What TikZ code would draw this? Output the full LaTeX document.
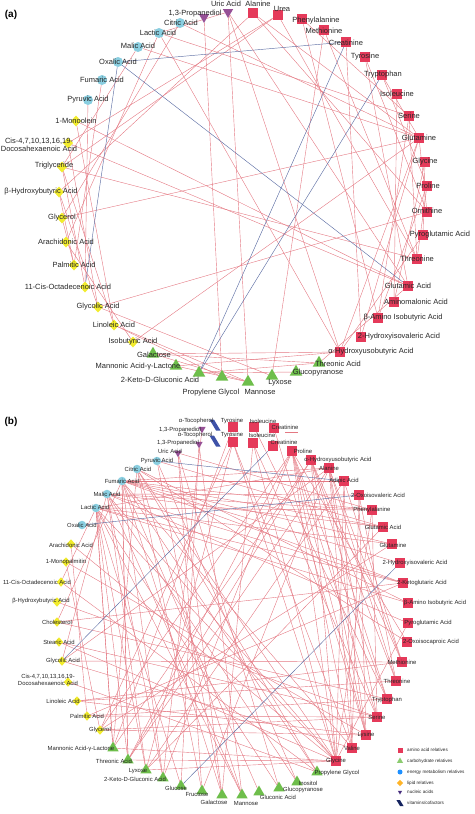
\documentclass[tikz,border=0pt]{standalone}
\usepackage{fontspec}
\setmainfont{Liberation Sans}
\usetikzlibrary{shapes.geometric,backgrounds}
\definecolor{aared}{RGB}{229,58,90}
\definecolor{aagreen}{RGB}{110,190,75}
\definecolor{aacyan}{RGB}{138,206,224}
\definecolor{aayellow}{RGB}{242,236,45}
\definecolor{aapurple}{RGB}{150,80,150}
\definecolor{aanavy}{RGB}{62,82,168}
\definecolor{lgblue}{RGB}{30,144,255}
\definecolor{lgorange}{RGB}{255,180,40}
\definecolor{lgpurple}{RGB}{70,45,125}
\definecolor{lgnavy}{RGB}{20,35,95}
\definecolor{redline}{RGB}{228,120,130}
\definecolor{blueline}{RGB}{95,112,165}
\tikzset{
 mk/.style={inner sep=0pt, outer sep=0pt, draw=none},
 sqa/.style={mk, rectangle, fill=aared, minimum size=10.5pt},
 tria/.style={mk, regular polygon, regular polygon sides=3, fill=aagreen, minimum size=14.5pt},
 cira/.style={mk, circle, fill=aacyan, minimum size=10pt},
 diaa/.style={mk, diamond, fill=aayellow, minimum width=10pt, minimum height=11pt},
 nuca/.style={mk, regular polygon, regular polygon sides=3, shape border rotate=180, fill=aapurple, minimum size=12pt},
 sqb/.style={mk, rectangle, fill=aared, minimum size=9.5pt},
 trib/.style={mk, regular polygon, regular polygon sides=3, fill=aagreen, minimum size=13pt},
 cirb/.style={mk, circle, fill=aacyan, minimum size=8.5pt},
 diab/.style={mk, diamond, fill=aayellow, minimum width=8.5pt, minimum height=9.5pt},
 nucb/.style={mk, regular polygon, regular polygon sides=3, shape border rotate=180, fill=aapurple, minimum size=8.5pt},
 vitb/.style={mk, rectangle, fill=aanavy, minimum width=4.5pt, minimum height=11pt, xslant=-0.6},
 lbla/.style={inner sep=0pt, font=\fontsize{7.5}{8.3}\selectfont, text=black!85},
 lblb/.style={inner sep=0pt, font=\fontsize{5.9}{6.7}\selectfont, text=black!85},
 lgt/.style={inner sep=0pt, anchor=west, font=\fontsize{4.6}{5}\selectfont, text=black!85},
 re/.style={draw=redline, line width=0.4pt},
 be/.style={draw=blueline, line width=0.45pt},
}
\newcommand{\nda}[7]{\node[#1] (#2) at (#3,#4) {}; \node[lbla] (#2l) at (#5,#6) {#7};}
\newcommand{\ndb}[7]{\node[#1] (#2) at (#3,#4) {}; \node[lblb] (#2l) at (#5,#6) {#7};}
\begin{document}
\begin{tikzpicture}[x=1pt,y=-1pt]
\useasboundingbox (0,0) rectangle (474,814);
\node[font=\bfseries\fontsize{10}{12}\selectfont] (pa) at (11,15) {(a)};
\node[font=\bfseries\fontsize{10}{12}\selectfont] (pb) at (11,422) {(b)};
% ---------------- panel (a) nodes
\nda{nuca}{aUric}{228}{12}{226}{4}{Uric Acid}
\nda{nuca}{aProp}{204}{17}{195}{14}{1,3-Propanediol}
\nda{cira}{aCit}{180}{23}{181}{23}{Citric Acid}
\nda{cira}{aLac}{159}{33}{158}{33}{Lactic Acid}
\nda{cira}{aMal}{138}{47}{138}{46}{Malic Acid}
\nda{cira}{aOxa}{118}{62}{118}{62}{Oxalic Acid}
\nda{cira}{aFum}{102}{80}{102}{80}{Fumaric Acid}
\nda{cira}{aPyr}{88}{100}{88}{100}{Pyruvic Acid}
\nda{diaa}{aMono}{76}{121}{76}{121}{1-Monoolein}
\node[diaa] (aDHA) at (68,143) {};
\node[lbla, align=center] (aDHAl) at (39,145) {Cis-4,7,10,13,16,19-\\Docosahexaenoic Acid};
\nda{diaa}{aTri}{62}{167}{54}{166}{Triglyceride}
\nda{diaa}{aBHB}{59}{192}{41}{192}{β-Hydroxybutyric Acid}
\nda{diaa}{aGlyc}{62}{218}{62}{218}{Glycerol}
\nda{diaa}{aAra}{66}{242}{66}{242}{Arachidonic Acid}
\nda{diaa}{aPal}{74}{265}{74}{265}{Palmitic Acid}
\nda{diaa}{aCis}{85}{287}{68}{287}{11-Cis-Octadecenoic Acid}
\nda{diaa}{aGlyco}{98}{307}{98}{307}{Glycolic Acid}
\nda{diaa}{aLin}{114}{325}{114}{325}{Linoleic Acid}
\nda{diaa}{aIso}{133}{342}{133}{342}{Isobutyric Acid}
\nda{tria}{aGal}{153}{354}{154}{355}{Galactose}
\nda{tria}{aMan}{176}{366}{138}{367}{Mannonic Acid-γ-Lactone}
\nda{tria}{aKeto}{199}{373}{160}{380}{2-Keto-D-Gluconic Acid}
\nda{tria}{aPG}{222}{377}{211}{393}{Propylene Glycol}
\nda{tria}{aMann}{248}{382}{260}{392}{Mannose}
\nda{tria}{aLyx}{272}{376}{280}{383}{Lyxose}
\nda{tria}{aGlp}{296}{372}{318}{373}{Glucopyranose}
\nda{tria}{aThr}{319}{363}{338}{364}{Threonic Acid}
\nda{sqa}{aHIB}{340}{352}{371}{352}{α-Hydroxyusobutyric Acid}
\nda{sqa}{aHIV}{361}{337}{399}{337}{2-Hydroxyisovaleric Acid}
\nda{sqa}{aBAIB}{378}{318}{403}{318}{β-Amino Isobutyric Acid}
\nda{sqa}{aAmm}{394}{302}{416}{302}{Aminomalonic Acid}
\nda{sqa}{aGlu}{408}{286}{408}{286}{Glutamic Acid}
\nda{sqa}{aThn}{417}{259}{417}{259}{Threonine}
\nda{sqa}{aPyg}{423}{235}{440}{235}{Pyroglutamic Acid}
\nda{sqa}{aOrn}{427}{212}{427}{211}{Ornithine}
\nda{sqa}{aPro}{427}{186}{428}{186}{Proline}
\nda{sqa}{aGly}{425}{162}{425}{162}{Glycine}
\nda{sqa}{aGln}{419}{138}{419}{138}{Glutamine}
\nda{sqa}{aSer}{409}{116}{409}{116}{Serine}
\nda{sqa}{aIle}{397}{94}{397}{94}{Isoleucine}
\nda{sqa}{aTrp}{382}{75}{383}{75}{Tryptophan}
\nda{sqa}{aTyr}{365}{57}{365}{57}{Tyrosine}
\nda{sqa}{aCre}{346}{42}{346}{43}{Creatinine}
\nda{sqa}{aMet}{324}{30}{324}{31}{Methionine}
\nda{sqa}{aPhe}{302}{19}{316}{21}{Phenylalanine}
\nda{sqa}{aUrea}{278}{15}{282}{9}{Urea}
\nda{sqa}{aAla}{253}{13}{258}{4}{Alanine}
% ---------------- panel (b) nodes
\ndb{vitb}{bToc1}{215}{425}{196}{421}{α-Tocopherol}
\ndb{sqb}{bTyr1}{233}{427}{232}{421}{Tyrosine}
\ndb{sqb}{bIle1}{254}{427}{263}{421}{Isoleucine}
\ndb{sqb}{bCre1}{274}{428}{285}{427}{Creatinine}
\ndb{nucb}{bProp1}{202}{429}{180}{430}{1,3-Propanediol}
\ndb{vitb}{bToc2}{215}{441}{195}{435}{α-Tocopherol}
\ndb{sqb}{bTyr2}{233}{442}{232}{435}{Tyrosine}
\ndb{sqb}{bIle2}{253}{443}{262}{435}{Isoleucine}
\ndb{sqb}{bCre2}{273}{446}{284}{442}{Creatinine}
\ndb{nucb}{bProp2}{199}{444}{178}{443}{1,3-Propanediol}
\ndb{nucb}{bUric}{178}{453}{170}{451}{Uric Acid}
\ndb{cirb}{bPyr}{157}{461}{157}{461}{Pyruvic Acid}
\ndb{cirb}{bCit}{137}{469}{138}{469}{Citric Acid}
\ndb{cirb}{bFum}{122}{481}{122}{481}{Fumaric Acid}
\ndb{cirb}{bMal}{107}{494}{107}{494}{Malic Acid}
\ndb{cirb}{bLac}{96}{508}{95}{507}{Lactic Acid}
\ndb{cirb}{bOxa}{82}{525}{82}{525}{Oxalic Acid}
\ndb{diab}{bAra}{71}{544}{71}{545}{Arachidonic Acid}
\ndb{diab}{bMonop}{66}{562}{66}{562}{1-Monopalmitin}
\ndb{diab}{bCis}{61}{582}{37}{582}{11-Cis-Octadecenoic Acid}
\ndb{diab}{bBHB}{57}{602}{41}{601}{β-Hydroxybutyric Acid}
\ndb{diab}{bChol}{57}{622}{57}{622}{Cholesterol}
\ndb{diab}{bSte}{59}{642}{59}{642}{Stearic Acid}
\ndb{diab}{bGlyco}{62}{661}{63}{661}{Glycolic Acid}
\node[diab] (bDHA) at (68,682) {};
\node[lblb, align=center] (bDHAl) at (48,680) {Cis-4,7,10,13,16,19-\\Docosahexaenoic Acid};
\ndb{diab}{bLin}{77}{701}{63}{701}{Linoleic Acid}
\ndb{diab}{bPal}{87}{716}{87}{716}{Palmitic Acid}
\ndb{diab}{bGlyc}{100}{730}{100}{730}{Glycerol}
\ndb{trib}{bMan}{113}{748}{81}{749}{Mannonic Acid-γ-Lactone}
\ndb{trib}{bThr}{128}{760}{114}{761}{Threonic Acid}
\ndb{trib}{bLyx}{146}{770}{138}{771}{Lyxose}
\ndb{trib}{bKeto}{163}{778}{135}{779}{2-Keto-D-Gluconic Acid}
\ndb{trib}{bGlc}{181}{786}{176}{788}{Glucose}
\ndb{trib}{bFru}{202}{791}{197}{794}{Fructose}
\ndb{trib}{bGal}{222}{795}{214}{802}{Galactose}
\ndb{trib}{bMann}{242}{795}{246}{803}{Mannose}
\ndb{trib}{bGlcA}{259}{792}{278}{797}{Gluconic Acid}
\ndb{trib}{bGlp}{279}{788}{303}{790}{Glucopyranose}
\ndb{trib}{bIno}{297}{782}{308}{783}{Inositol}
\ndb{trib}{bPG}{317}{772}{337}{773}{Propylene Glycol}
\ndb{sqb}{bGly}{336}{761}{336}{761}{Glycine}
\ndb{sqb}{bVal}{352}{748}{352}{748}{Valine}
\ndb{sqb}{bLys}{366}{735}{366}{735}{Lysine}
\ndb{sqb}{bSer}{377}{717}{377}{717}{Serine}
\ndb{sqb}{bTrp}{387}{699}{387}{700}{Tryptophan}
\ndb{sqb}{bThn}{396}{681}{397}{681}{Threonine}
\ndb{sqb}{bMet}{402}{662}{402}{662}{Methionine}
\ndb{sqb}{bOic}{407}{642}{431}{642}{2-Oxoisocaproic Acid}
\ndb{sqb}{bPyg}{408}{623}{428}{623}{Pyroglutamic Acid}
\ndb{sqb}{bBAIB}{408}{603}{435}{603}{β-Amino Isobutyric Acid}
\ndb{sqb}{bKG}{403}{583}{422}{583}{2-Ketoglutaric Acid}
\ndb{sqb}{bHIV}{400}{563}{415}{563}{2-Hydroxyisovaleric Acid}
\ndb{sqb}{bGln}{392}{544}{393}{545}{Glutamine}
\ndb{sqb}{bGlu}{383}{527}{383}{527}{Glutamic Acid}
\ndb{sqb}{bPhe}{372}{510}{372}{510}{Phenylalanine}
\ndb{sqb}{bOiv}{359}{495}{378}{495}{2-Oxoisovaleric Acid}
\ndb{sqb}{bAdi}{344}{481}{344}{481}{Adipic Acid}
\ndb{sqb}{bAla}{329}{468}{329}{468}{Alanine}
\ndb{sqb}{bHIB}{311}{460}{338}{460}{α-Hydroxyusobutyric Acid}
\ndb{sqb}{bPro}{292}{451}{303}{451}{Proline}
\draw[redline, line width=0.5pt] (285,432) -- (298,432);
% legend
\node[mk, rectangle, fill=aared, minimum size=5pt] (lg1) at (400,750) {};
\node[lgt] (lg1l) at (407,750) {amino acid relatives};
\node[mk, regular polygon, regular polygon sides=3, fill=aagreen!80, minimum size=7pt] (lg2) at (400,761) {};
\node[lgt] (lg2l) at (407,761) {carbohydrate relatives};
\node[mk, circle, fill=lgblue, minimum size=5pt] (lg3) at (400,772) {};
\node[lgt] (lg3l) at (407,772) {energy metabolism relatives};
\node[mk, star, star points=4, fill=lgorange, minimum size=6.5pt] (lg4) at (400,783) {};
\node[lgt] (lg4l) at (407,783) {lipid relatives};
\node[mk, regular polygon, regular polygon sides=3, shape border rotate=180, fill=lgpurple, minimum size=5pt] (lg5) at (400,792) {};
\node[lgt] (lg5l) at (407,792) {nucleic acids};
\node[mk, rectangle, fill=lgnavy, minimum width=3.5pt, minimum height=6pt, xslant=-0.6] (lg6) at (400,803) {};
\node[lgt] (lg6l) at (407,803) {vitamins/cofactors};
% ---------------- edges
\begin{scope}[on background layer]
\foreach \u/\v in {aUric/aMann, aProp/aPG, aUric/aHIB, aUric/aGlu, aUric/aLac, aAla/aBHB, aUrea/aTri, aAla/aGln, aAla/aOrn, aUrea/aThn, aPhe/aBAIB, aPhe/aSer, aMet/aThn, aMet/aLyx, aCre/aHIV, aTyr/aOrn, aTyr/aGlu, aTrp/aPro, aTrp/aGln, aIle/aAmm, aSer/aBAIB, aSer/aThn, aGln/aHIB, aGly/aPyg, aPro/aThn, aOrn/aGln, aCit/aGln, aLac/aSer, aMal/aGln, aLac/aHIB, aMono/aGlu, aDHA/aGlu, aTri/aThn, aGlyc/aGln, aIso/aGln, aGal/aHIB, aMan/aHIB, aGal/aThr, aKeto/aGlp, aGal/aMann, aMan/aMann, aGlyco/aLyx, aLin/aMann, aLin/aPG, aCit/aGlyc, aMal/aTri, aLac/aAra, aFum/aPal, aPyr/aCis, aMono/aLin, aDHA/aGlyco, aTri/aLin, aBHB/aGlyco, aGlyc/aPal, aAra/aIso, aTri/aCis, aBHB/aPal, aHIV/aGln, aBAIB/aPro, aAmm/aGly, aThr/aGlu, aHIB/aPyg, aGlyco/aOrn, aDHA/aUrea, aKeto/aThr}
  \draw[re] (\u) -- (\v);
\foreach \u/\v in {aOxa/aCre, aOxa/aGlu, aCre/aKeto, aTrp/aKeto, aOxa/aCis}
  \draw[be] (\u) -- (\v);
\foreach \u/\v in {bUric/bGal, bUric/bFru, bProp2/bMann, bProp2/bGlc, bProp1/bKeto, bTyr2/bLyx, bTyr2/bGly, bIle2/bGly, bIle2/bGal, bIle2/bSer, bTyr2/bVal, bTyr1/bMan, bIle1/bTrp, bCre1/bLys, bTyr2/bGlyc, bPro/bLys, bPro/bVal, bPro/bSer, bPro/bGlyc, bPro/bThr, bHIB/bGly, bHIB/bTrp, bHIB/bLys, bHIB/bMan, bAla/bSer, bAla/bVal, bAla/bFum, bAla/bLac, bAla/bGlyco, bAdi/bGly, bAdi/bMet, bAdi/bFum, bOiv/bThn, bOiv/bLys, bOiv/bMal, bPhe/bFum, bPhe/bMal, bPhe/bLac, bPhe/bGly, bPhe/bSer, bGlu/bFum, bGlu/bMal, bGlu/bLyx, bGln/bLac, bGln/bFum, bGln/bGlyc, bHIV/bFum, bKG/bFum, bKG/bMal, bKG/bPal, bKG/bLac, bBAIB/bCit, bBAIB/bLac, bPyg/bGly, bPyg/bMal, bOic/bPro, bOic/bCit, bMet/bHIB, bMet/bAla, bMet/bLin, bThn/bHIB, bThn/bAla, bTrp/bChol, bTrp/bPro, bSer/bSte, bSer/bPal, bLys/bGlyc, bLys/bAla, bVal/bAdi, bVal/bOiv, bGly/bMan, bGly/bThr, bGly/bLyx, bGly/bMal, bGly/bLac, bGly/bPro, bGly/bSte, bPG/bFum, bPG/bCit, bIno/bPyr, bIno/bMal, bGlp/bLac, bGlp/bUric, bGlcA/bFum, bMann/bCit, bMann/bMal, bMann/bLac, bGal/bFum, bGal/bPyr, bFru/bCit, bFru/bAla, bGlc/bLac, bKeto/bFum, bKeto/bMal, bKeto/bPro, bLyx/bLac, bLyx/bMal, bThr/bLac, bThr/bFum, bThr/bAla, bMan/bLac, bAra/bGly, bMonop/bLys, bCis/bPG, bBHB/bSer, bGlyco/bVal, bDHA/bPG, bLin/bLys, bGlyc/bSer, bAra/bPal, bMonop/bGlyc, bLac/bCis, bFum/bChol, bMal/bGlyco, bCit/bMan, bFum/bThr, bLac/bMan, bCit/bGly, bFum/bVal, bUric/bPhe, bPyr/bGlu, bChol/bKG, bGlyco/bMet, bLin/bThn, bPal/bTrp, bThr/bHIB, bLyx/bAdi}
  \draw[re] (\u) -- (\v);
\foreach \u/\v in {bPyr/bAdi, bOxa/bOiv, bCre2/bGlyco, bHIV/bGlc}
  \draw[be] (\u) -- (\v);
\end{scope}
\end{tikzpicture}
\end{document}
